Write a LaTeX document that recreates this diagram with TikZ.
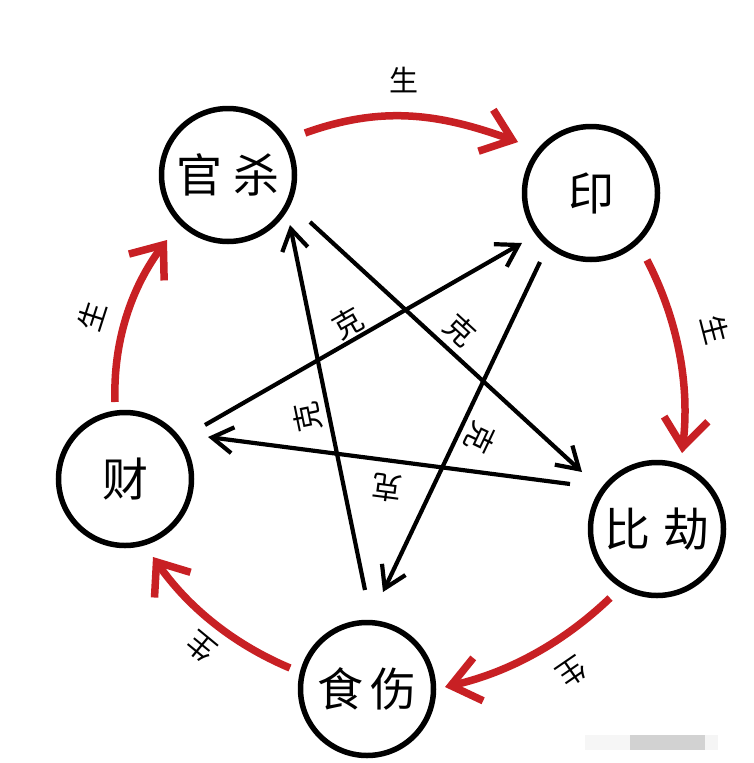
\documentclass[tikz,border=0pt]{standalone}
\usepackage{fontspec}
\setmainfont{Noto Sans CJK SC}
\usetikzlibrary{arrows.meta}
\definecolor{shred}{RGB}{200,32,36}
\begin{document}
\begin{tikzpicture}[x=1pt,y=-1pt,
  elem/.style={circle,draw=black,line width=5.5pt,minimum size=133pt,inner sep=0pt,font=\fontsize{46}{46}\selectfont},
  sheng/.style={draw=shred,line width=7.5pt,-{Straight Barb[length=28pt,width=44pt]}},
  ke/.style={draw=black,line width=4.2pt,-{Straight Barb[length=21pt,width=26pt]}},
  shenglbl/.style={font=\fontsize{29}{29}\selectfont,inner sep=0pt},
  kelbl/.style={font=\fontsize{30}{30}\selectfont,inner sep=0pt}]
\useasboundingbox (0,0) rectangle (754,763);
\fill[white] (0,0) rectangle (754,763);

% elements
\node[elem] (guan) at (228,175) {官\hspace{12pt}杀};
\node[elem] (yin)  at (591,193) {印};
\node[elem] (bi)   at (657,529) {比\hspace{13pt}劫};
\node[elem] (shi)  at (367,689) {食\hspace{7pt}伤};
\node[elem] (cai)  at (125,479) {财};

% red (sheng) arrow ends
\coordinate (r1s) at (305,133); \coordinate (r1e) at (518,142);
\coordinate (r2s) at (647,260); \coordinate (r2e) at (682,453);
\coordinate (r3s) at (610,598); \coordinate (r3e) at (445,687);
\coordinate (r4s) at (290,668); \coordinate (r4e) at (153,557);
\coordinate (r5s) at (115,402); \coordinate (r5e) at (167,240);

\draw[sheng] (r1s) .. controls (383,105) and (440,114) .. (r1e);
\draw[sheng] (r2s) .. controls (678,320) and (690,385) .. (r2e);
\draw[sheng] (r3s) .. controls (564,642) and (510,672) .. (r3e);
\draw[sheng] (r4s) .. controls (233,644) and (188,607) .. (r4e);
\draw[sheng] (r5s) .. controls (113,342) and (131,288) .. (r5e);

% sheng labels
\node[shenglbl] (s1) at (404,80) {生};
\node[shenglbl,rotate=-75.5] (s2) at (715,330) {生};
\node[shenglbl,rotate=-145.5] (s3) at (572,672) {生};
\node[shenglbl,rotate=140.5] (s4) at (201,647) {生};
\node[shenglbl,rotate=72.2] (s5) at (92,316) {生};

% black (ke) arrow ends
\coordinate (k1s) at (205,425); \coordinate (k1e) at (522,243);
\coordinate (k2s) at (570,484); \coordinate (k2e) at (208,437);
\coordinate (k3s) at (310,222); \coordinate (k3e) at (582,472);
\coordinate (k4s) at (540,262); \coordinate (k4e) at (383,592);
\coordinate (k5s) at (365,590); \coordinate (k5e) at (290,225);

\draw[ke] (k1s) -- (k1e);
\draw[ke] (k2s) -- (k2e);
\draw[ke] (k3s) -- (k3e);
\draw[ke] (k4s) -- (k4e);
\draw[ke] (k5s) -- (k5e);

% ke labels
\node[kelbl,rotate=29.7] (t1) at (348,323) {克};
\node[kelbl,rotate=-42.6] (t2) at (460,330) {克};
\node[kelbl,rotate=101.6] (t3) at (307,417) {克};
\node[kelbl,rotate=-115.4] (t4) at (480,438) {克};
\node[kelbl,rotate=172.6] (t5) at (387,488) {克};

% blurred mark
\fill[gray!7] (585,735) rectangle (630,750);
\fill[gray!35] (630,735) rectangle (705,750);
\fill[gray!8] (705,735) rectangle (718,750);
\end{tikzpicture}
\end{document}
